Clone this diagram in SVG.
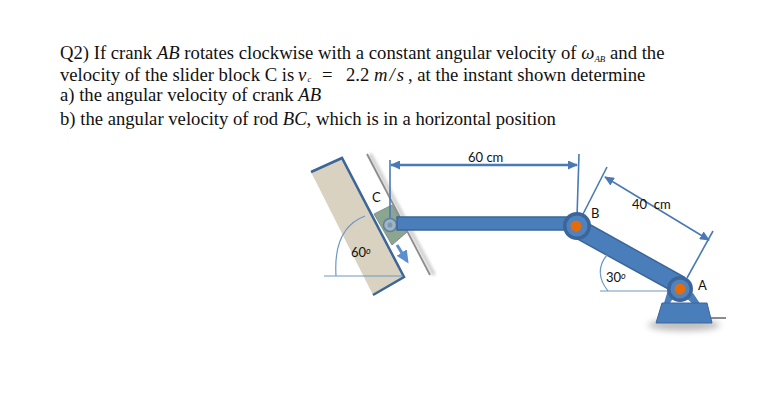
<svg xmlns="http://www.w3.org/2000/svg" width="766" height="406" viewBox="0 0 766 406">
<style>
.q{font-family:"Liberation Serif",serif;font-size:18.67px;fill:#111}
.i{font-style:italic}
.s{font-family:"Liberation Serif",serif;font-size:9px;font-style:italic;fill:#111}
.l{font-family:Lato,"Liberation Sans",sans-serif;font-size:13px;fill:#111}
.dim{stroke:#4a7ab5;stroke-width:1.6;fill:none}
.thin{stroke:#6d97c6;stroke-width:1.2;fill:none}
.link{fill:#4a7ebb;stroke:#3c659a;stroke-width:1.5}
.pin{fill:#e46c0a}
</style>
<defs>
<marker id="a" markerWidth="10" markerHeight="9" refX="9" refY="4.500" orient="auto-start-reverse" markerUnits="userSpaceOnUse"><path d="M0 0L10 4.500L0 9Z" fill="#4a7ab5"/></marker>
<marker id="v" markerWidth="13" markerHeight="12" refX="10" refY="6" orient="auto" markerUnits="userSpaceOnUse"><path d="M0 0L13 6L0 12Z" fill="#5b8fd0"/></marker>
<filter id="b" x="-30%" y="-30%" width="160%" height="160%"><feGaussianBlur stdDeviation="1.500"/></filter>
<filter id="c" x="-30%" y="-60%" width="160%" height="220%"><feGaussianBlur stdDeviation="3"/></filter>
</defs>
<rect width="766" height="406" fill="#fff"/>
<g id="question">
<text class="q" x="60" y="59">Q2) If crank <tspan class="i">AB</tspan> rotates clockwise with a constant angular velocity of <tspan class="i">ω</tspan><tspan class="s" dy="3">AB</tspan><tspan dy="-3"> and the</tspan></text>
<text class="q" x="60" y="81">velocity of the slider block C is</text>
<text class="q i" x="298" y="81">v</text><text class="s" x="307.500" y="82" style="font-size:8.500px">c</text>
<text class="q" x="322" y="81">=</text><text class="q" x="346" y="81">2.2</text>
<text class="q i" x="374" y="81" letter-spacing="2">m/s</text>
<text class="q" x="408" y="81">, at the instant shown determine</text>
<text class="q" x="60" y="101">a) the angular velocity of crank <tspan class="i">AB</tspan></text>
<text class="q" x="60" y="125">b) the angular velocity of rod <tspan class="i">BC</tspan>, which is in a horizontal position</text>
</g>
<g id="wall"><path d="M311 172L342 158L404 277L373 295Z" fill="#d9d2c0"/><path d="M311 172L342 158L404 277L373 295" fill="none" stroke="#3c659a" stroke-width="2.500"/></g>
<g id="rail"><path d="M370 154L434 275" stroke="#cfcfcf" stroke-width="4" filter="url(#b)"/><path d="M367 154L430 275" stroke="#8c8c8c" stroke-width="1.800"/></g>
<g id="slider"><path d="M374 214L392 205L407 232L392 245Z" fill="#8ba58f" stroke="#7d8f94"/><circle cx="390" cy="225" r="6.500" fill="#9fb4c4" stroke="#5f7f9e" stroke-width="1.500"/><circle cx="390" cy="225" r="2.500" fill="#7d97ad"/></g>
<g id="connectors">
<path class="link" d="M397 217H570V230H397Z"/>
<path class="link" d="M580 219L684 277L672 291L572 236Z"/>
<path class="dim" d="M390 160V218"/><path class="dim" d="M579 154L577 217"/>
<path class="dim" d="M391 165H577" style="stroke-width:2.500" marker-start="url(#a)" marker-end="url(#a)"/>
<path class="dim" d="M580 220L607 167"/><path class="dim" d="M687 278L713 231"/>
<path class="dim" d="M605 177L709 240" marker-start="url(#a)" marker-end="url(#a)"/>
<path d="M397 245L407 261" stroke="#5b8fd0" stroke-width="3" marker-end="url(#v)"/>
<path class="thin" d="M324 276H403"/><path class="thin" d="M365 216Q333 228 336 276"/>
<path class="thin" d="M600 291H667"/><path class="thin" d="M607 255Q593 272 608 291"/>
</g>
<g id="B"><circle cx="577" cy="226" r="14" fill="#3c659a"/><circle cx="577" cy="226" r="10.500" fill="#4f83c0"/><circle class="pin" cx="576" cy="226" r="5.500"/></g>
<g id="A">
<ellipse cx="684" cy="325" rx="36" ry="6" fill="#bdbdbd" filter="url(#c)"/>
<path d="M668 290L664 303H670L676 294ZM693 293L701 305H694L684 296Z" fill="#4a7ebb"/>
<path d="M662 303H707L712 323H656Z" fill="#4a7ebb" stroke="#3c659a"/>
<path d="M711 318H726" stroke="#666" stroke-width="1.500"/>
<circle cx="680" cy="289" r="13" fill="#3c659a"/><circle cx="680" cy="289" r="9.500" fill="#4f83c0"/><circle class="pin" cx="680" cy="289" r="5.500"/>
</g>
<g id="labels">
<text class="l" x="468" y="162">60 cm</text>
<text class="l" x="372" y="202">C</text>
<text class="l" x="351" y="257">60<tspan font-style="italic" font-size="9" dy="-3">o</tspan></text>
<text class="l" x="591" y="218">B</text>
<text class="l" x="632" y="209" xml:space="preserve">40  cm</text>
<text class="l" x="606" y="282">30<tspan font-style="italic" font-size="9" dy="-3">o</tspan></text>
<text class="l" x="698" y="290">A</text>
</g>
</svg>
